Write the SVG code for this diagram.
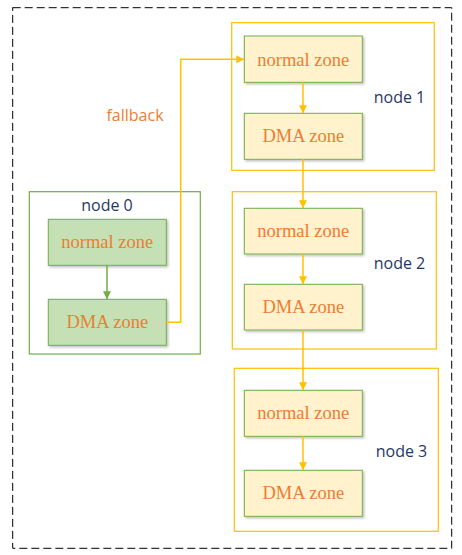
<svg xmlns="http://www.w3.org/2000/svg" width="462" height="555" viewBox="0 0 462 555">
<style>
.zone{fill:#FFF2CC;stroke:#70AD47;stroke-width:1;filter:url(#sh)}
.zone0{fill:#C5E0B4;stroke:#70AD47;stroke-width:1;filter:url(#sh)}
.box{fill:none;stroke:#FFC000;stroke-width:1.2}
.ztxt{font-family:"Liberation Serif",serif;font-size:18.5px;fill:#ED7D31;text-anchor:middle}
.ntxt{font-family:"Open Sans",sans-serif;font-size:16px;fill:#1F3864;text-anchor:middle}
.yl{fill:none;stroke:#FFC000;stroke-width:1.5}
.gl{fill:none;stroke:#70AD47;stroke-width:1.5}
</style>
<defs>
<filter id="sh" x="-10%" y="-10%" width="130%" height="140%">
<feDropShadow dx="1.5" dy="1.5" stdDeviation="1" flood-color="#000" flood-opacity="0.25"/>
</filter>
<marker id="ay" viewBox="0 0 10 10" refX="10" refY="5" markerWidth="8" markerHeight="8" markerUnits="userSpaceOnUse" orient="auto">
<path d="M0,0 L10,5 L0,10 z" fill="#FFC000"/>
</marker>
<marker id="ag" viewBox="0 0 10 10" refX="10" refY="5" markerWidth="8" markerHeight="8" markerUnits="userSpaceOnUse" orient="auto">
<path d="M0,0 L10,5 L0,10 z" fill="#70AD47"/>
</marker>
</defs>
<rect x="0" y="0" width="462" height="555" fill="#fff"/>
<rect id="frame" x="12.7" y="7.7" width="439" height="540.6" fill="none" stroke="#000" stroke-width="1" stroke-dasharray="8,4"/>

<g id="node0">
<rect x="29.3" y="191.7" width="171" height="162.3" fill="none" stroke="#70AD47" stroke-width="1.2"/>
<text class="ntxt" x="107" y="211">node 0</text>
<rect class="zone0" x="48.3" y="219.3" width="118" height="46"/>
<text class="ztxt" x="107.3" y="248">normal zone</text>
<rect class="zone0" x="48.3" y="299.3" width="118" height="46"/>
<text class="ztxt" x="107.3" y="328">DMA zone</text>
</g>

<g id="node1">
<rect class="box" x="231.7" y="22.7" width="202.6" height="147.6"/>
<text class="ntxt" x="399.5" y="103">node 1</text>
<rect class="zone" x="244.3" y="36" width="118" height="46.3"/>
<text class="ztxt" x="303.3" y="65.5">normal zone</text>
<rect class="zone" x="244.3" y="113.3" width="118" height="46"/>
<text class="ztxt" x="303.3" y="141.5">DMA zone</text>
</g>

<g id="node2">
<rect class="box" x="232.3" y="191.7" width="204" height="157.3"/>
<text class="ntxt" x="399.5" y="269">node 2</text>
<rect class="zone" x="244.3" y="208.3" width="118" height="45.7"/>
<text class="ztxt" x="303.3" y="237">normal zone</text>
<rect class="zone" x="244.3" y="284.3" width="118" height="45.7"/>
<text class="ztxt" x="303.3" y="313">DMA zone</text>
</g>

<g id="node3">
<rect class="box" x="234.3" y="368.3" width="204" height="163"/>
<text class="ntxt" x="401.5" y="456.5">node 3</text>
<rect class="zone" x="244.3" y="390.3" width="118" height="46"/>
<text class="ztxt" x="303.3" y="419">normal zone</text>
<rect class="zone" x="244.3" y="470.3" width="118" height="46"/>
<text class="ztxt" x="303.3" y="499">DMA zone</text>
</g>

<text id="fallback" x="135" y="121" font-family="'Open Sans',sans-serif" font-size="16px" fill="#ED7D31" text-anchor="middle">fallback</text>

<g id="connectors">
<line class="gl" x1="107" y1="265.3" x2="107" y2="299.3" marker-end="url(#ag)"/>
<polyline class="yl" points="166.3,322.3 180.7,322.3 180.7,59.3 244.3,59.3" marker-end="url(#ay)"/>
<line class="yl" x1="303" y1="82.3" x2="303" y2="113.3" marker-end="url(#ay)"/>
<line class="yl" x1="303" y1="159.3" x2="303" y2="208.3" marker-end="url(#ay)"/>
<line class="yl" x1="303" y1="254" x2="303" y2="284.3" marker-end="url(#ay)"/>
<line class="yl" x1="303" y1="330" x2="303" y2="390.3" marker-end="url(#ay)"/>
<line class="yl" x1="303" y1="436.3" x2="303" y2="470.3" marker-end="url(#ay)"/>
</g>
</svg>
